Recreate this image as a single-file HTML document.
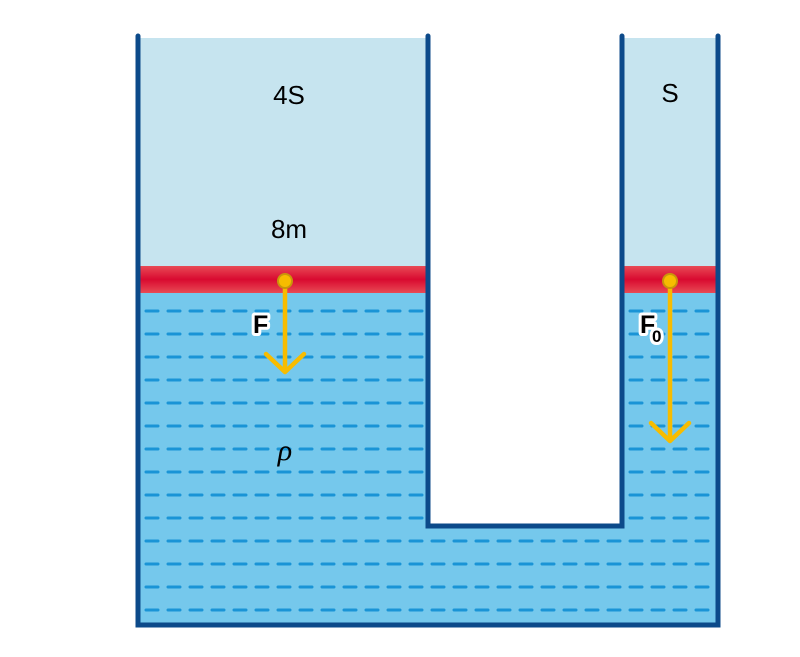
<!DOCTYPE html>
<html><head><meta charset="utf-8"><style>body{margin:0;background:#fff}svg{display:block}</style></head>
<body>
<svg width="800" height="657" viewBox="0 0 800 657" xmlns="http://www.w3.org/2000/svg">
<defs>
<linearGradient id="red" x1="0" y1="0" x2="0" y2="1">
<stop offset="0" stop-color="#e84a55"/><stop offset="0.5" stop-color="#d90a30"/><stop offset="1" stop-color="#e84a55"/>
</linearGradient>
<clipPath id="water"><path d="M140 293 H428 V526 H622 V293 H718 V625 H140 Z"/></clipPath>
</defs>
<rect x="140" y="38" width="288" height="228" fill="#c6e4ef"/>
<rect x="622" y="38" width="96" height="228" fill="#c6e4ef"/>
<rect x="140" y="266" width="288" height="27" fill="url(#red)"/>
<rect x="622" y="266" width="96" height="27" fill="url(#red)"/>
<path d="M140 293 H428 V526 H622 V293 H718 V625 H140 Z" fill="#75c8ec"/>
<g clip-path="url(#water)" stroke="#1a94d6" stroke-width="3" stroke-dasharray="12 10" stroke-linecap="round">
<path d="M146 311H720M146 334H720M146 357H720M146 380H720M146 403H720M146 426H720M146 449H720M146 472H720M146 495H720M146 518H720M146 541H720M146 564H720M146 587H720M146 610H720"/>
</g>
<path d="M138 36 V625 H718 V36 M428 36 V526 H622 V36" fill="none" stroke="#0c4a8a" stroke-width="5" stroke-linecap="round"/>
<g stroke="#f7bc00" stroke-width="4.5" fill="none" stroke-linecap="round" stroke-linejoin="round">
<path d="M285 281 V372 M266 354 L285 372 L304 354"/>
<path d="M670 281 V441 M651 423 L670 441 L689 423"/>
</g>
<circle cx="285" cy="281" r="7" fill="#f7bc00" stroke="#c9960a" stroke-width="2"/>
<circle cx="670" cy="281" r="7" fill="#f7bc00" stroke="#c9960a" stroke-width="2"/>
<g font-family="Liberation Sans, sans-serif" font-size="26" text-anchor="middle" fill="#000">
<text x="289" y="104">4S</text>
<text x="289" y="238">8m</text>
<text x="670" y="102">S</text>
<text x="285" y="460" font-family="Liberation Serif, serif" font-style="italic" font-size="30">ρ</text>
</g>
<g font-family="Liberation Sans, sans-serif" font-weight="bold" fill="#000" stroke="#fff" stroke-width="6" paint-order="stroke" stroke-linejoin="round">
<text x="253" y="333" font-size="25">F</text>
<text x="640" y="333" font-size="25">F</text>
<text x="652" y="342" font-size="17">0</text>
</g>
</svg>
</body></html>
